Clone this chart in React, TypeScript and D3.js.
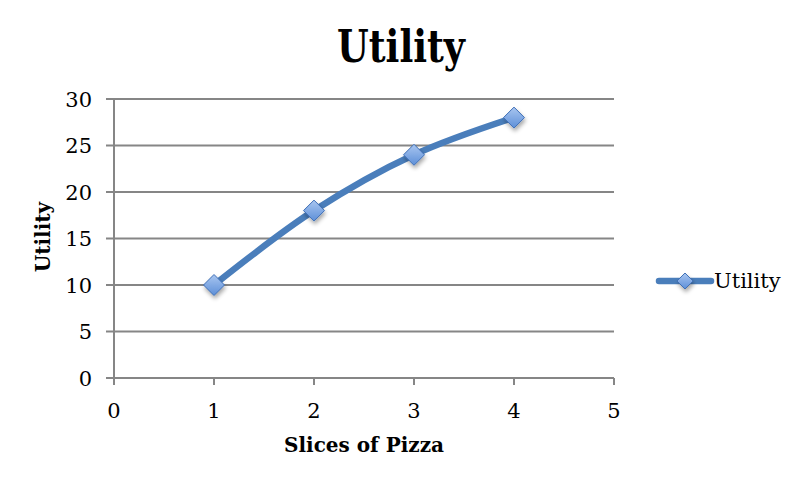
import React from "react";
import * as d3 from "d3";

const slices = [1, 2, 3, 4];
const utility = [10, 18, 24, 28];
const xTicks = [0, 1, 2, 3, 4, 5];
const yTicks = [0, 5, 10, 15, 20, 25, 30];
const seriesName = "Utility";
const titleText = "Utility";

const W = 802;
const H = 488;
const FONT = "'DejaVu Serif', 'Liberation Serif', serif";

export default function App() {
  const x = d3.scaleLinear().domain([0, 5]).range([114, 614]);
  const y = d3.scaleLinear().domain([0, 30]).range([378, 99]);
  const line = d3
    .line<number>()
    .x((_, i) => x(slices[i]))
    .y((d) => y(d))
    .curve(d3.curveCatmullRom.alpha(0.5));
  const path = line(utility) || "";
  const diamond = (cx: number, cy: number, r: number) =>
    `M${cx},${cy - r}L${cx + r},${cy}L${cx},${cy + r}L${cx - r},${cy}Z`;

  return (
    <svg width={W} height={H} style={{ position: "absolute", left: 0, top: 0 }}>
      <defs>
        <linearGradient id="mk" x1="0" y1="0" x2="0" y2="1">
          <stop offset="0" stopColor="#a9c6f0" />
          <stop offset="1" stopColor="#5d8fd8" />
        </linearGradient>
        <filter id="sh" x="-50%" y="-50%" width="200%" height="200%">
          <feGaussianBlur in="SourceAlpha" stdDeviation="2" />
          <feOffset dx="1" dy="3" result="b" />
          <feComponentTransfer>
            <feFuncA type="linear" slope="0.35" />
          </feComponentTransfer>
          <feMerge>
            <feMergeNode />
            <feMergeNode in="SourceGraphic" />
          </feMerge>
        </filter>
      </defs>
      <rect width={W} height={H} fill="#fff" />
      <text
        x={401}
        y={62}
        textAnchor="middle"
        fontFamily={FONT}
        fontWeight="bold"
        fontSize={44}
        textLength={128}
        lengthAdjust="spacingAndGlyphs"
      >
        {titleText}
      </text>
      {yTicks.map((t) => (
        <g key={t}>
          <line x1={106} x2={614} y1={y(t)} y2={y(t)} stroke="#868686" strokeWidth={2} />
          <text x={92} y={y(t) + 7.5} textAnchor="end" fontFamily={FONT} fontSize={21}>
            {t}
          </text>
        </g>
      ))}
      <line x1={x(0)} x2={x(0)} y1={y(30)} y2={385} stroke="#868686" strokeWidth={2} />
      {xTicks.map((t) => (
        <g key={t}>
          <line x1={x(t)} x2={x(t)} y1={y(0)} y2={385} stroke="#868686" strokeWidth={2} />
          <text x={x(t)} y={418} textAnchor="middle" fontFamily={FONT} fontSize={21}>
            {t}
          </text>
        </g>
      ))}
      <text x={364} y={452} textAnchor="middle" fontFamily={FONT} fontWeight="bold" fontSize={20}>
        Slices of Pizza
      </text>
      <text
        transform={`translate(50,237) rotate(-90)`}
        textAnchor="middle"
        fontFamily={FONT}
        fontWeight="bold"
        fontSize={20}
      >
        Utility
      </text>
      <path d={path} fill="none" stroke="#4a7ebb" strokeWidth={6.5} strokeLinecap="round" />
      {utility.map((v, i) => (
        <path
          key={i}
          d={diamond(x(slices[i]), y(v), 10.5)}
          fill="url(#mk)"
          stroke="#3f6fb6"
          strokeWidth={1}
          filter="url(#sh)"
        />
      ))}
      <line x1={659} x2={711} y1={281} y2={281} stroke="#4a7ebb" strokeWidth={6.5} strokeLinecap="round" />
      <path d={diamond(685, 281, 8)} fill="url(#mk)" stroke="#3f6fb6" strokeWidth={1} filter="url(#sh)" />
      <text x={714} y={288} fontFamily={FONT} fontSize={21}>
        {seriesName}
      </text>
    </svg>
  );
}
